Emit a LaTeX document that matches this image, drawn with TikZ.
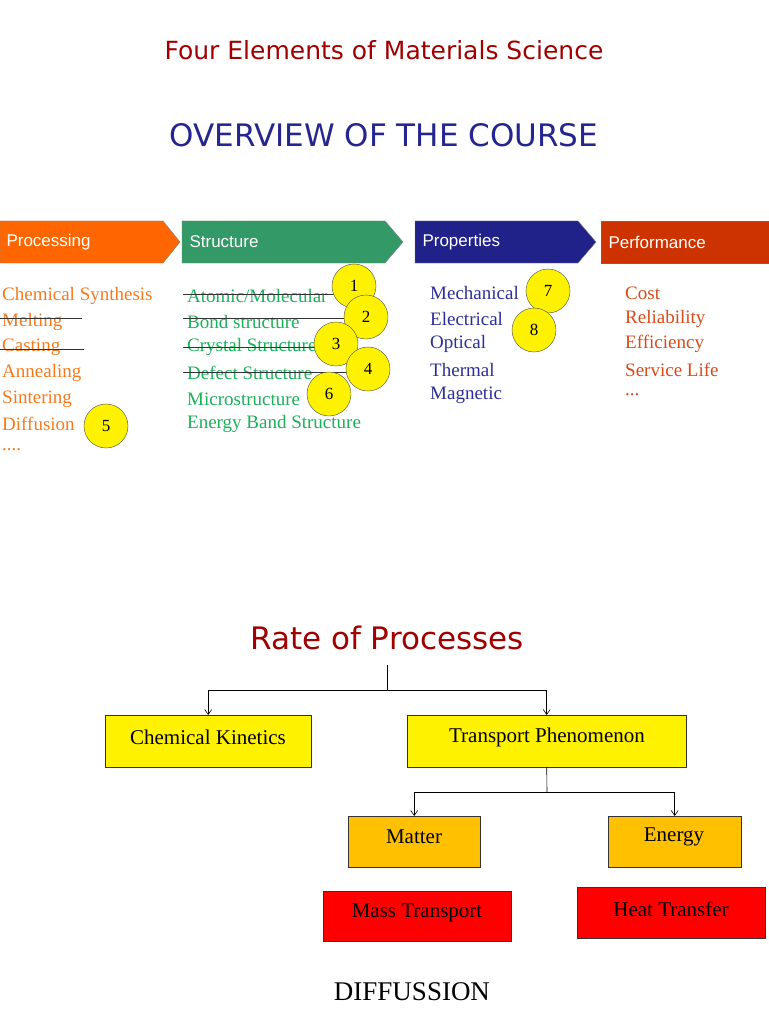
\documentclass[tikz,border=0pt]{standalone}
\usepackage{fontspec}
\setmainfont{Liberation Serif}
\newfontfamily\dv{DejaVu Sans}
\newfontfamily\ls{Liberation Sans}
\usetikzlibrary{arrows.meta}
\definecolor{dred}{HTML}{A00000}
\definecolor{navy}{HTML}{252590}
\definecolor{porange}{HTML}{FF6600}
\definecolor{sgreen}{HTML}{339966}
\definecolor{pblue}{HTML}{21218A}
\definecolor{perf}{HTML}{CC3300}
\definecolor{lorange}{HTML}{F57A1E}
\definecolor{lgreen}{HTML}{1BB05A}
\definecolor{lblue}{HTML}{2E2E99}
\definecolor{lred}{HTML}{D94A1A}
\definecolor{gold}{HTML}{FFC000}
\begin{document}
\begin{tikzpicture}[x=1pt,y=-1pt,
  hd/.style={text=white,font=\ls\fontsize{17}{20}\selectfont,anchor=west},
  li/.style={anchor=west,font=\fontsize{19}{22}\selectfont,inner sep=0pt},
  circ/.style={circle,draw=black!70,fill=yellow,minimum size=44pt,inner sep=0pt,font=\fontsize{17}{20}\selectfont},
  st/.style={black!80,line width=0.9pt},
  bx/.style={draw=black!80,anchor=north west,inner sep=0pt},
  bt/.style={font=\fontsize{21}{24}\selectfont},
  con/.style={draw=black,line width=0.6pt},
  arr/.style={con,-{Straight Barb[length=5pt,width=7pt]}}]
\useasboundingbox (0,0) rectangle (768,1024);
\node[text=dred,font=\dv\fontsize{25}{30}\selectfont] (t1) at (384,50) {Four Elements of Materials Science};
\node[text=navy,font=\dv\fontsize{31}{36}\selectfont] (t2) at (384,135) {OVERVIEW OF THE COURSE};
% arrows
\filldraw[fill=porange,draw=black!50] (0,221) -- (163,221) -- (180,242) -- (163,263) -- (0,263) -- cycle;
\filldraw[fill=sgreen,draw=black!50] (182,221) -- (385,221) -- (403,242) -- (385,263) -- (182,263) -- cycle;
\filldraw[fill=pblue,draw=black!50] (415,221) -- (578,221) -- (596,242) -- (578,263) -- (415,263) -- cycle;
\filldraw[fill=perf,draw=black!60] (601,221) rectangle (770,263);
\node[hd] (h1) at (3,242) {Processing};
\node[hd] (h2) at (186,242) {Structure};
\node[hd] (h3) at (419,242) {Properties};
\node[hd] (h4) at (605,242) {Performance};
% lists
\node[li,text=lorange] (p0) at (2,296) {Chemical Synthesis};
\node[li,text=lorange] (p1) at (2,322) {Melting};
\node[li,text=lorange] (p2) at (2,347) {Casting};
\node[li,text=lorange] (p3) at (2,373) {Annealing};
\node[li,text=lorange] (p4) at (2,399) {Sintering};
\node[li,text=lorange] (p5) at (2,424) {Diffusion};
\node[li,text=lorange] (p6) at (2,450) {.\kern0pt.\kern0pt.\kern0pt.};
\node[li,text=lgreen] (s0) at (187,296) {Atomic/Molecular};
\node[li,text=lgreen] (s1) at (187,322) {Bond structure};
\node[li,text=lgreen] (s2) at (187,347) {Crystal Structure};
\node[li,text=lgreen] (s3) at (187,373) {Defect Structure};
\node[li,text=lgreen] (s4) at (187,399) {Microstructure};
\node[li,text=lgreen] (s5) at (187,424) {Energy Band Structure};
\node[li,text=lblue] (r0) at (430,293) {Mechanical};
\node[li,text=lblue] (r1) at (430,319) {Electrical};
\node[li,text=lblue] (r2) at (430,344) {Optical};
\node[li,text=lblue] (r3) at (430,370) {Thermal};
\node[li,text=lblue] (r4) at (430,395) {Magnetic};
\node[li,text=lred] (f0) at (625,293) {Cost};
\node[li,text=lred] (f1) at (625,319) {Reliability};
\node[li,text=lred] (f2) at (625,344) {Efficiency};
\node[li,text=lred] (f3) at (625,370) {Service Life};
\node[li,text=lred] (f4) at (625,395) {.\kern0pt.\kern0pt.};
\draw[st] (0,318) -- (82,318);
\draw[st] (0,349) -- (84,349);
\draw[st] (183,294) -- (353,294);
\draw[st] (183,318) -- (353,318);
\draw[st] (183,347) -- (353,347);
\draw[st] (183,372) -- (353,372);
\node[circ] (c1) at (354,286) {1};
\node[circ] (c2) at (366,317) {2};
\node[circ] (c3) at (336,344) {3};
\node[circ] (c4) at (368,369) {4};
\node[circ] (c6) at (329,394) {6};
\node[circ] (c5) at (106,426) {5};
\node[circ] (c7) at (548,291) {7};
\node[circ] (c8) at (534,330) {8};
% lower tree
\node[text=dred,font=\dv\fontsize{31}{36}\selectfont] (t3) at (387,638) {Rate of Processes};
\node[bx,fill=yellow,minimum width=206pt,minimum height=52pt] (ck) at (105,715) {};
\node[bt] at (208,737) {Chemical Kinetics};
\node[bx,fill=yellow,minimum width=279pt,minimum height=52pt] (tp) at (407,715) {};
\node[bt] at (547,737) {Transport Phenomenon};
\node[bx,fill=gold,minimum width=132pt,minimum height=51pt] (ma) at (348,816) {};
\node[bt] at (414,837) {Matter};
\node[bx,fill=gold,minimum width=133pt,minimum height=51pt] (en) at (608,816) {};
\node[bt] at (674,837) {Energy};
\node[bx,fill=red,minimum width=188pt,minimum height=50pt] (mt) at (323,891) {};
\node[bt] at (417,913) {Mass Transport};
\node[bx,fill=red,minimum width=188pt,minimum height=51pt] (ht) at (577,887) {};
\node[bt] at (671,909) {Heat Transfer};
\coordinate (top) at (387,665);
\coordinate (j1) at (387,690);
\coordinate (j2) at (547,792);
\draw[con] (top) -- (j1);
\draw[arr] (j1) -| (ck.north);
\draw[arr] (j1) -| (tp.north);
\draw[con] (tp.south) -- (j2);
\draw[arr] (j2) -| (ma.north);
\draw[arr] (j2) -| (en.north);
\node[font=\fontsize{27}{30}\selectfont] (df) at (412,992) {DIFFUSSION};
\end{tikzpicture}
\end{document}
